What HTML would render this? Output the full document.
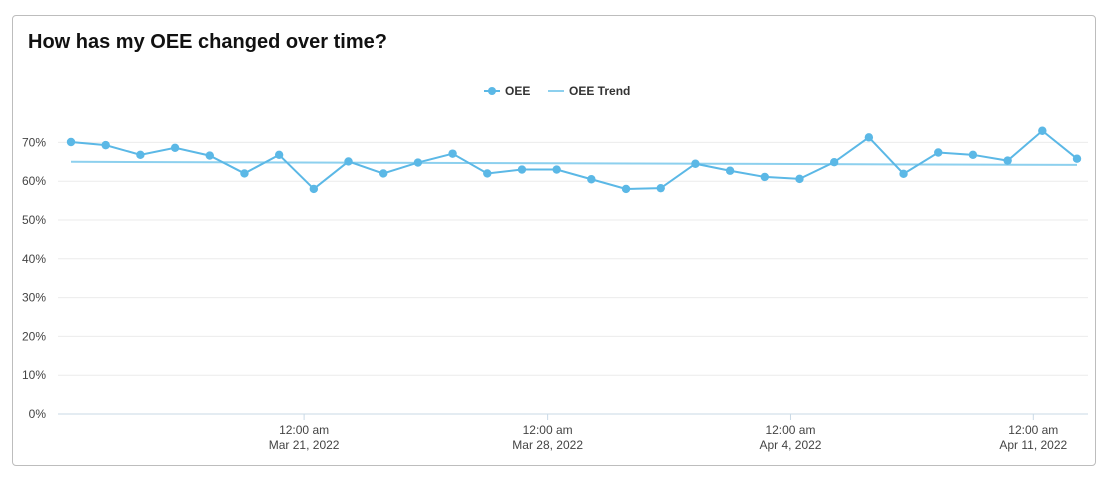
<!DOCTYPE html>
<html><head><meta charset="utf-8"><style>
body{margin:0;background:#fff;font-family:"Liberation Sans",sans-serif}
#card{position:absolute;left:12px;top:15px;width:1084px;height:451px;border:1px solid #bdbdbd;border-radius:4px;box-sizing:border-box}
#title{position:absolute;left:28px;top:31px;font-size:20px;font-weight:bold;color:#111}
svg{position:absolute;left:0;top:0}
text{font-family:"Liberation Sans",sans-serif}
</style></head><body>
<div id="card"></div>
<div id="title">How has my OEE changed over time?</div>
<svg id="chart" width="1108" height="477"></svg>
<script>
const yTicks=[0,10,20,30,40,50,60,70];
const oeeValues=[70.1,69.3,66.8,68.6,66.6,62.0,66.8,58.0,65.1,62.0,64.8,67.1,62.0,63.0,63.0,60.5,58.0,58.2,64.5,62.7,61.1,60.6,64.9,71.3,61.9,67.4,66.8,65.3,73.0,65.8];
const trendValues=[65.0,64.2];
const xTickDays=[6.72,13.74,20.74,27.74];
const xTickDates=["Mar 21, 2022","Mar 28, 2022","Apr 4, 2022","Apr 11, 2022"];
const NS="http://www.w3.org/2000/svg";
const svg=document.getElementById('chart');
const x0=71,dx=34.69,yb=414,yScale=3.88;
const X=i=>x0+i*dx, Y=v=>yb-v*yScale;
function el(t,a,p){const e=document.createElementNS(NS,t);for(const k in a)e.setAttribute(k,a[k]);(p||svg).appendChild(e);return e;}
yTicks.forEach(v=>{
  const l=el('line',{x1:58,x2:1088,y1:Y(v),y2:Y(v),stroke:v===0?'#c9d9e6':'#ebebeb','stroke-width':1});
  
  
  const t=el('text',{x:46,y:Y(v)+4,'text-anchor':'end','font-size':12,fill:'#444'});
  t.textContent=v+'%';
  
  
});
xTickDays.forEach((d,i)=>{
  const x=X(d);
  el('line',{x1:x,x2:x,y1:yb,y2:yb+6,stroke:'#c9d9e6'});
  const t1=el('text',{x:x,y:434,'text-anchor':'middle','font-size':12,fill:'#444'});
  t1.textContent='12:00 am';
  
  
  const t2=el('text',{x:x,y:449,'text-anchor':'middle','font-size':12,fill:'#444'});
  t2.textContent=xTickDates[i];
  
  
});
const tr=el('line',{x1:X(0),x2:X(oeeValues.length-1),y1:Y(trendValues[0]),y2:Y(trendValues[1]),stroke:'#8dd0ee','stroke-width':2});


const pl=el('polyline',{points:oeeValues.map((v,i)=>X(i)+','+Y(v)).join(' '),fill:'none',stroke:'#5bb8e6','stroke-width':2});


oeeValues.forEach((v,i)=>{
  const c=el('circle',{cx:X(i),cy:Y(v),r:4.2,fill:'#5bb8e6'});
  
  
});
const lg=el('g',{});


el('line',{x1:484,x2:500,y1:91,y2:91,stroke:'#5bb8e6','stroke-width':2},lg);
el('circle',{cx:492,cy:91,r:4,fill:'#5bb8e6'},lg);
const l1=el('text',{x:505,y:95,'font-size':12,'font-weight':'bold',fill:'#333'},lg);l1.textContent='OEE';


el('line',{x1:548,x2:564,y1:91,y2:91,stroke:'#8dd0ee','stroke-width':2},lg);
const l2=el('text',{x:569,y:95,'font-size':12,'font-weight':'bold',fill:'#333'},lg);l2.textContent='OEE Trend';


</script>
</body></html>
